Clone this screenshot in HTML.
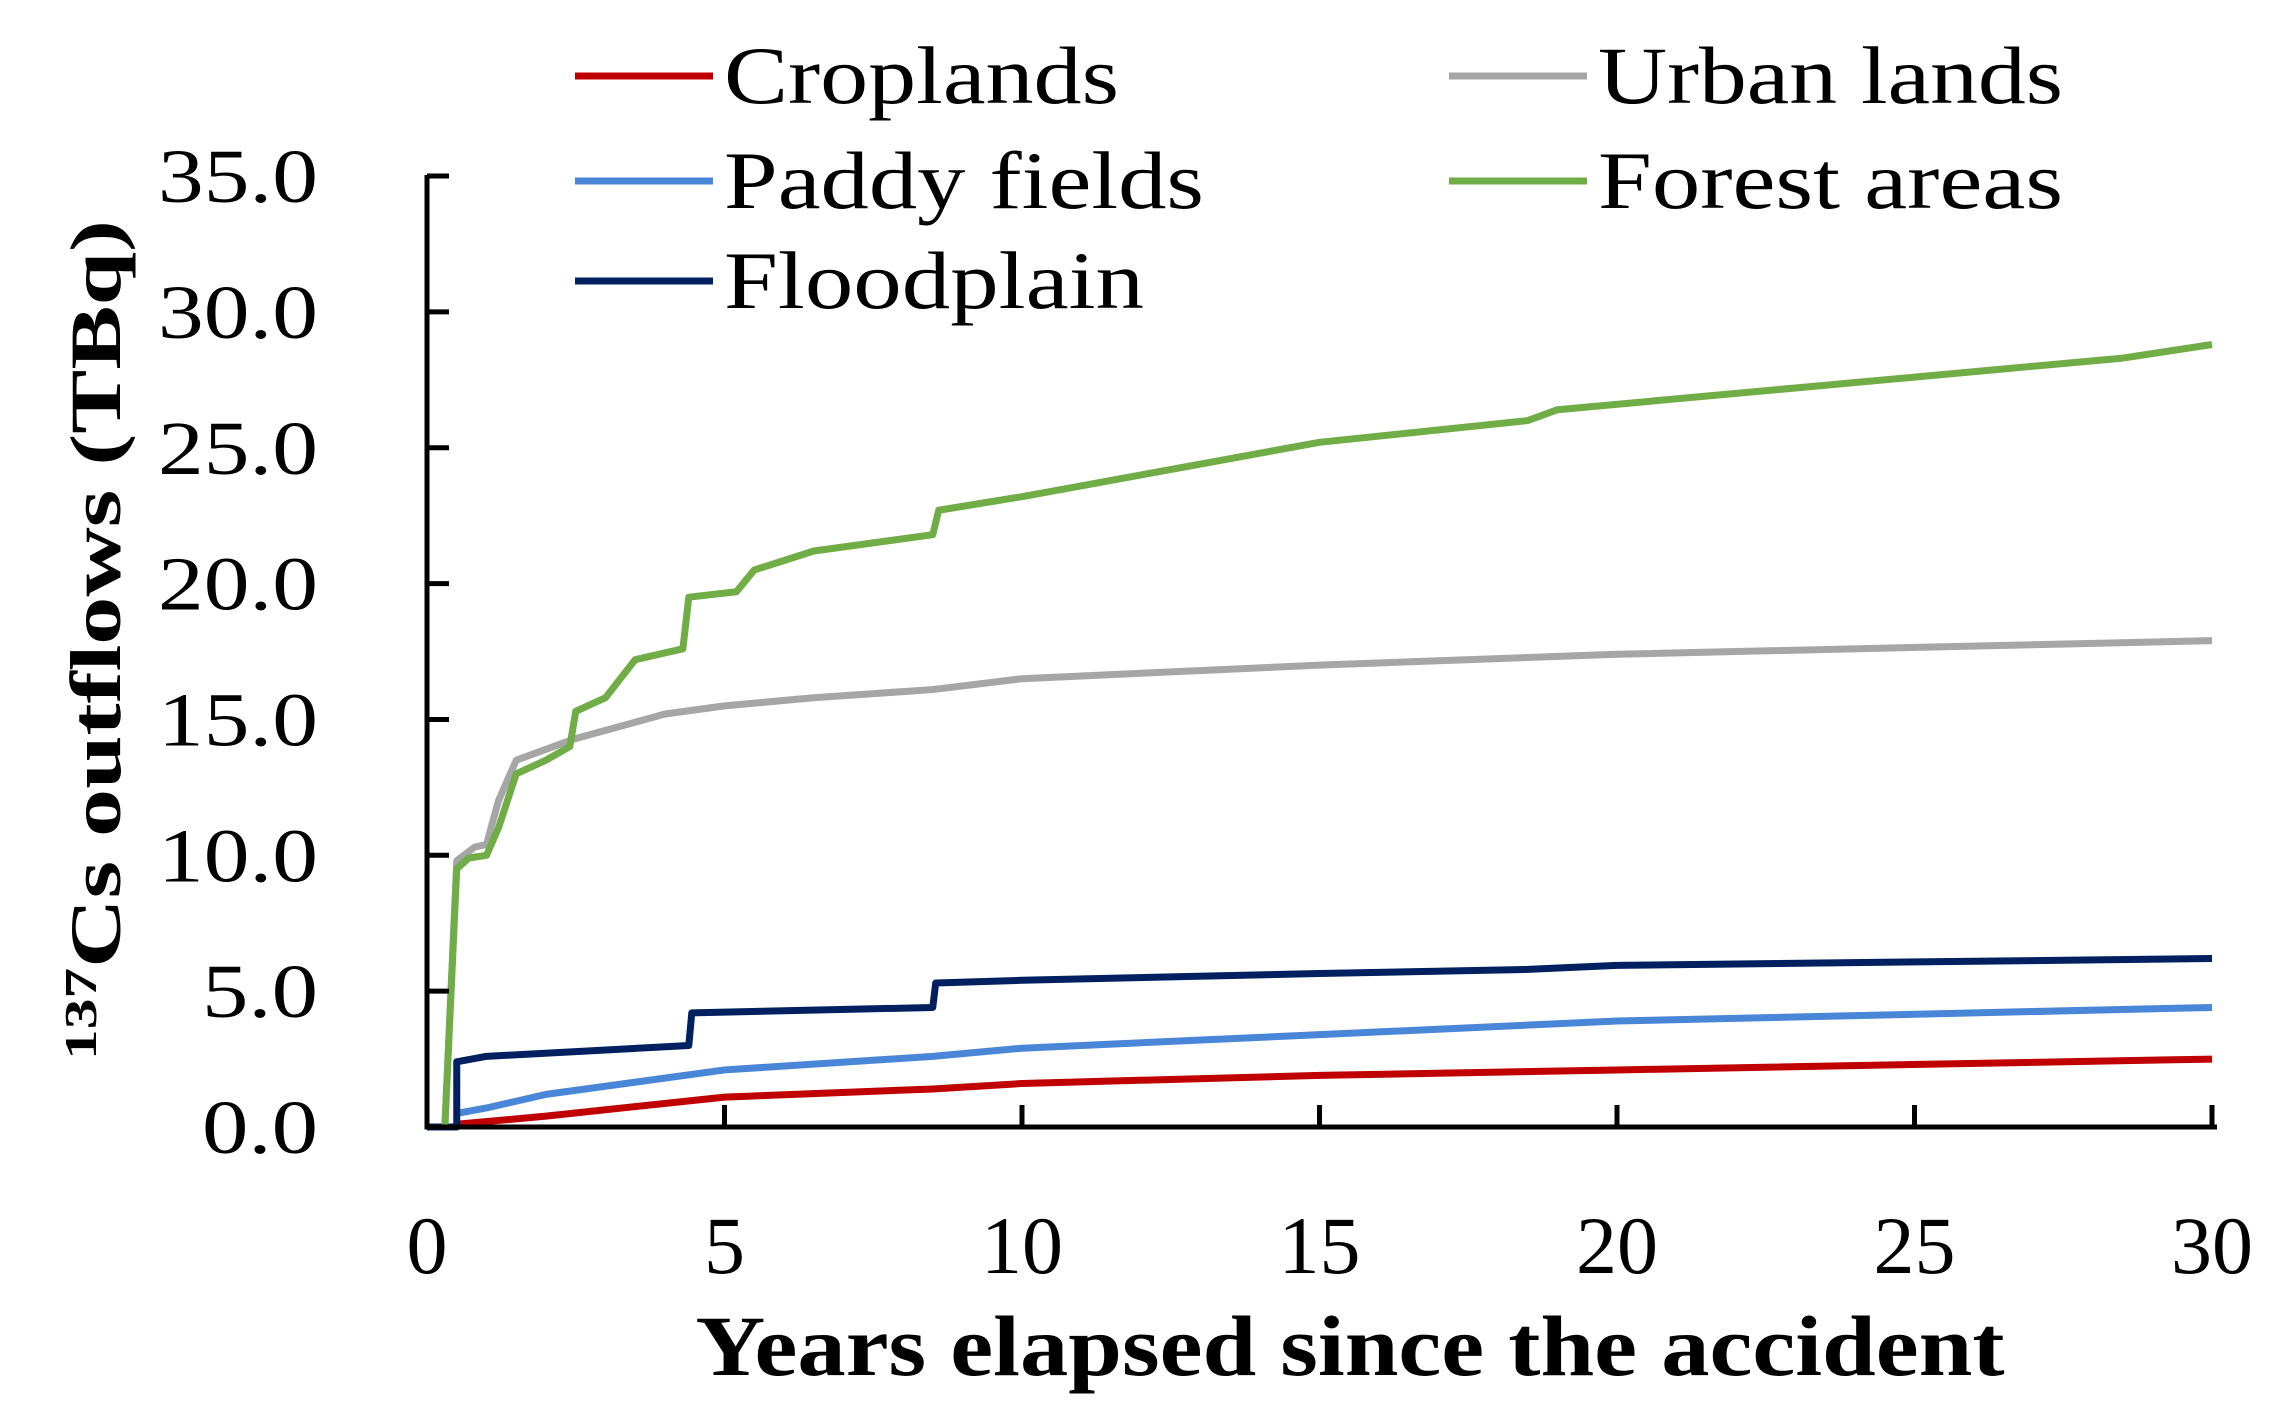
<!DOCTYPE html>
<html><head><meta charset="utf-8"><style>body{margin:0;background:#fff}svg{display:block}text{font-family:"Liberation Serif","Times New Roman",serif}</style></head><body>
<svg id="s" width="2287" height="1423" xmlns="http://www.w3.org/2000/svg">
<g id="g"></g>
</svg>
<script>
const X=t=>427+t*59.5, Y=v=>1127-v*27.17;
let h='';
const ser={
'#a6a6a6':[[0.3,0],[0.5,9.8],[0.8,10.3],[1.0,10.4],[1.2,12],[1.5,13.5],[2.5,14.3],[3,14.6],[4,15.2],[5,15.5],[6.5,15.8],[8.5,16.1],[10,16.5],[15,17],[20,17.4],[30,17.9]],
'#70ad47':[[0.3,0],[0.5,9.5],[0.7,9.9],[1.0,10],[1.2,11],[1.5,13],[2,13.5],[2.4,14],[2.5,15.3],[3,15.8],[3.5,17.2],[4.3,17.6],[4.4,19.5],[5.2,19.7],[5.5,20.5],[6.5,21.2],[8.5,21.8],[8.6,22.7],[10,23.2],[12,24],[15,25.2],[18.5,26],[19,26.4],[22,27],[25,27.6],[28.5,28.3],[30,28.8]],
'#002060':[[0,0],[0.5,0],[0.5,2.4],[1,2.6],[4.4,3.0],[4.45,4.2],[8.5,4.4],[8.55,5.3],[10,5.4],[15,5.65],[18.5,5.8],[20,5.95],[30,6.2]],
'#4a86d8':[[0.5,0.5],[1,0.7],[2,1.2],[5,2.1],[8.5,2.6],[10,2.9],[15,3.4],[20,3.9],[30,4.4]],
'#c00000':[[0.5,0.1],[2,0.4],[5,1.1],[8.5,1.4],[10,1.6],[15,1.9],[20,2.1],[30,2.5]]};
for(const c of ['#c00000','#4a86d8','#002060','#a6a6a6','#70ad47']){
 h+=`<polyline fill="none" stroke="${c}" stroke-width="7" stroke-linejoin="round" points="${ser[c].map(p=>X(p[0])+','+Y(p[1])).join(' ')}"/>`;}
h+=`<path d="M427,175 V1127 H2217" fill="none" stroke="#000" stroke-width="5"/>`;
for(let i=0;i<=7;i++){const y=Y(i*5);h+=`<line x1="427" x2="449" y1="${y}" y2="${y}" stroke="#000" stroke-width="5"/><text x="318" y="${y+26}" font-size="76" text-anchor="end" textLength="${i<2?116:160}" lengthAdjust="spacingAndGlyphs">${(i*5).toFixed(1)}</text>`;}
for(let i=0;i<=6;i++){const x=X(i*5);h+=`<line x1="${x}" x2="${x}" y1="1127" y2="1105" stroke="#000" stroke-width="5"/><text x="${x}" y="1273" font-size="82" text-anchor="middle">${i*5}</text>`;}
h+=`<text x="1350" y="1375" font-size="86" font-weight="bold" text-anchor="middle" textLength="1309" lengthAdjust="spacingAndGlyphs">Years elapsed since the accident</text>`;
h+=`<text transform="translate(120,640) rotate(-90)" font-size="72" font-weight="bold" text-anchor="middle" textLength="840" lengthAdjust="spacingAndGlyphs"><tspan font-size="46" dy="-24">137</tspan><tspan dy="24">Cs outflows  (TBq)</tspan></text>`;
const lg=[[575,76,'#c00000','Croplands',395],[575,181,'#4a86d8','Paddy fields',480],[575,281,'#002060','Floodplain',420],[1449,76,'#a6a6a6','Urban lands',465],[1449,181,'#70ad47','Forest areas',465]];
for(const [x,y,c,t,w] of lg){h+=`<line x1="${x}" x2="${x+138}" y1="${y}" y2="${y}" stroke="${c}" stroke-width="7"/><text x="${x+149}" y="${y+27}" font-size="82" textLength="${w}" lengthAdjust="spacingAndGlyphs">${t}</text>`;}
document.getElementById('g').innerHTML=h;
</script>
</body></html>
